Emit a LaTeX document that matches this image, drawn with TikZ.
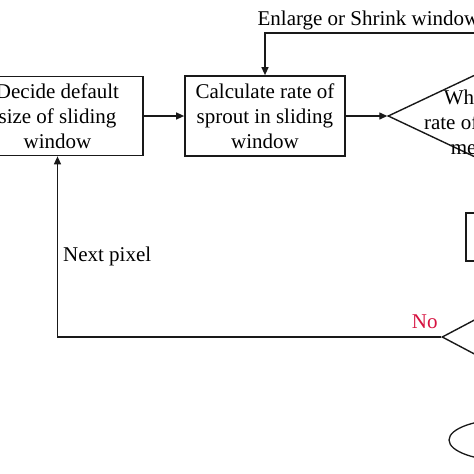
\documentclass[tikz,border=0pt]{standalone}
\usepackage{fontspec}
\setmainfont{Liberation Serif}
\usepackage{xcolor}
\usepackage{tikz}
\usetikzlibrary{arrows.meta,shapes.geometric}

\definecolor{nored}{RGB}{214,18,64}

\begin{document}
\begin{tikzpicture}[x=1pt,y=-1pt,
		every node/.style={font=\fontsize{21}{25}\selectfont},
		stepbox/.style={draw=black!90,line width=1.7pt,align=center,inner sep=0pt},
		decision/.style={draw=black!90,line width=1.4pt,diamond,inner sep=0pt},
		flow/.style={draw=black!90,line width=1.3pt,-{Triangle[length=8pt,width=7pt]}}]
		\useasboundingbox (0,0) rectangle (474,474);
		\clip (0,0) rectangle (474,474);

		\node[stepbox,minimum width=171pt,minimum height=79pt] (decide) at (57.5,116) {Decide default\\size of sliding\\window};
		\node[stepbox,minimum width=160pt,minimum height=80pt] (rate) at (265,116) {Calculate rate of\\sprout in sliding\\window};
		\node[decision,minimum width=190pt,minimum height=90pt] (check) at (483,116) {};
		\node[align=center] (checktext) at (480,122) {Whether\\rate of sprout\\meets?};
		\node[stepbox,minimum width=130pt,minimum height=48pt] (mark) at (531,237) {};
		\node[decision,minimum width=200pt,minimum height=106pt] (last) at (542,337) {};
		\node[draw=black!90,line width=1.3pt,ellipse,minimum width=120pt,minimum height=42pt] (stop) at (509,440) {};

		\coordinate (loop) at (490,33);
		\draw[flow] (decide) -- (rate);
		\draw[flow] (rate) -- (check);
		\draw[flow] (loop) -| node[pos=0.27,above,inner sep=2pt] {Enlarge or Shrink window} (rate.north);
		\draw[flow] (last.west) -| node[pos=0,above left,text=nored,inner xsep=3pt,inner ysep=8pt] {No}
			node[pos=0.7225,right,inner sep=5pt] {Next pixel} (decide.south);
	\end{tikzpicture}
\end{document}
